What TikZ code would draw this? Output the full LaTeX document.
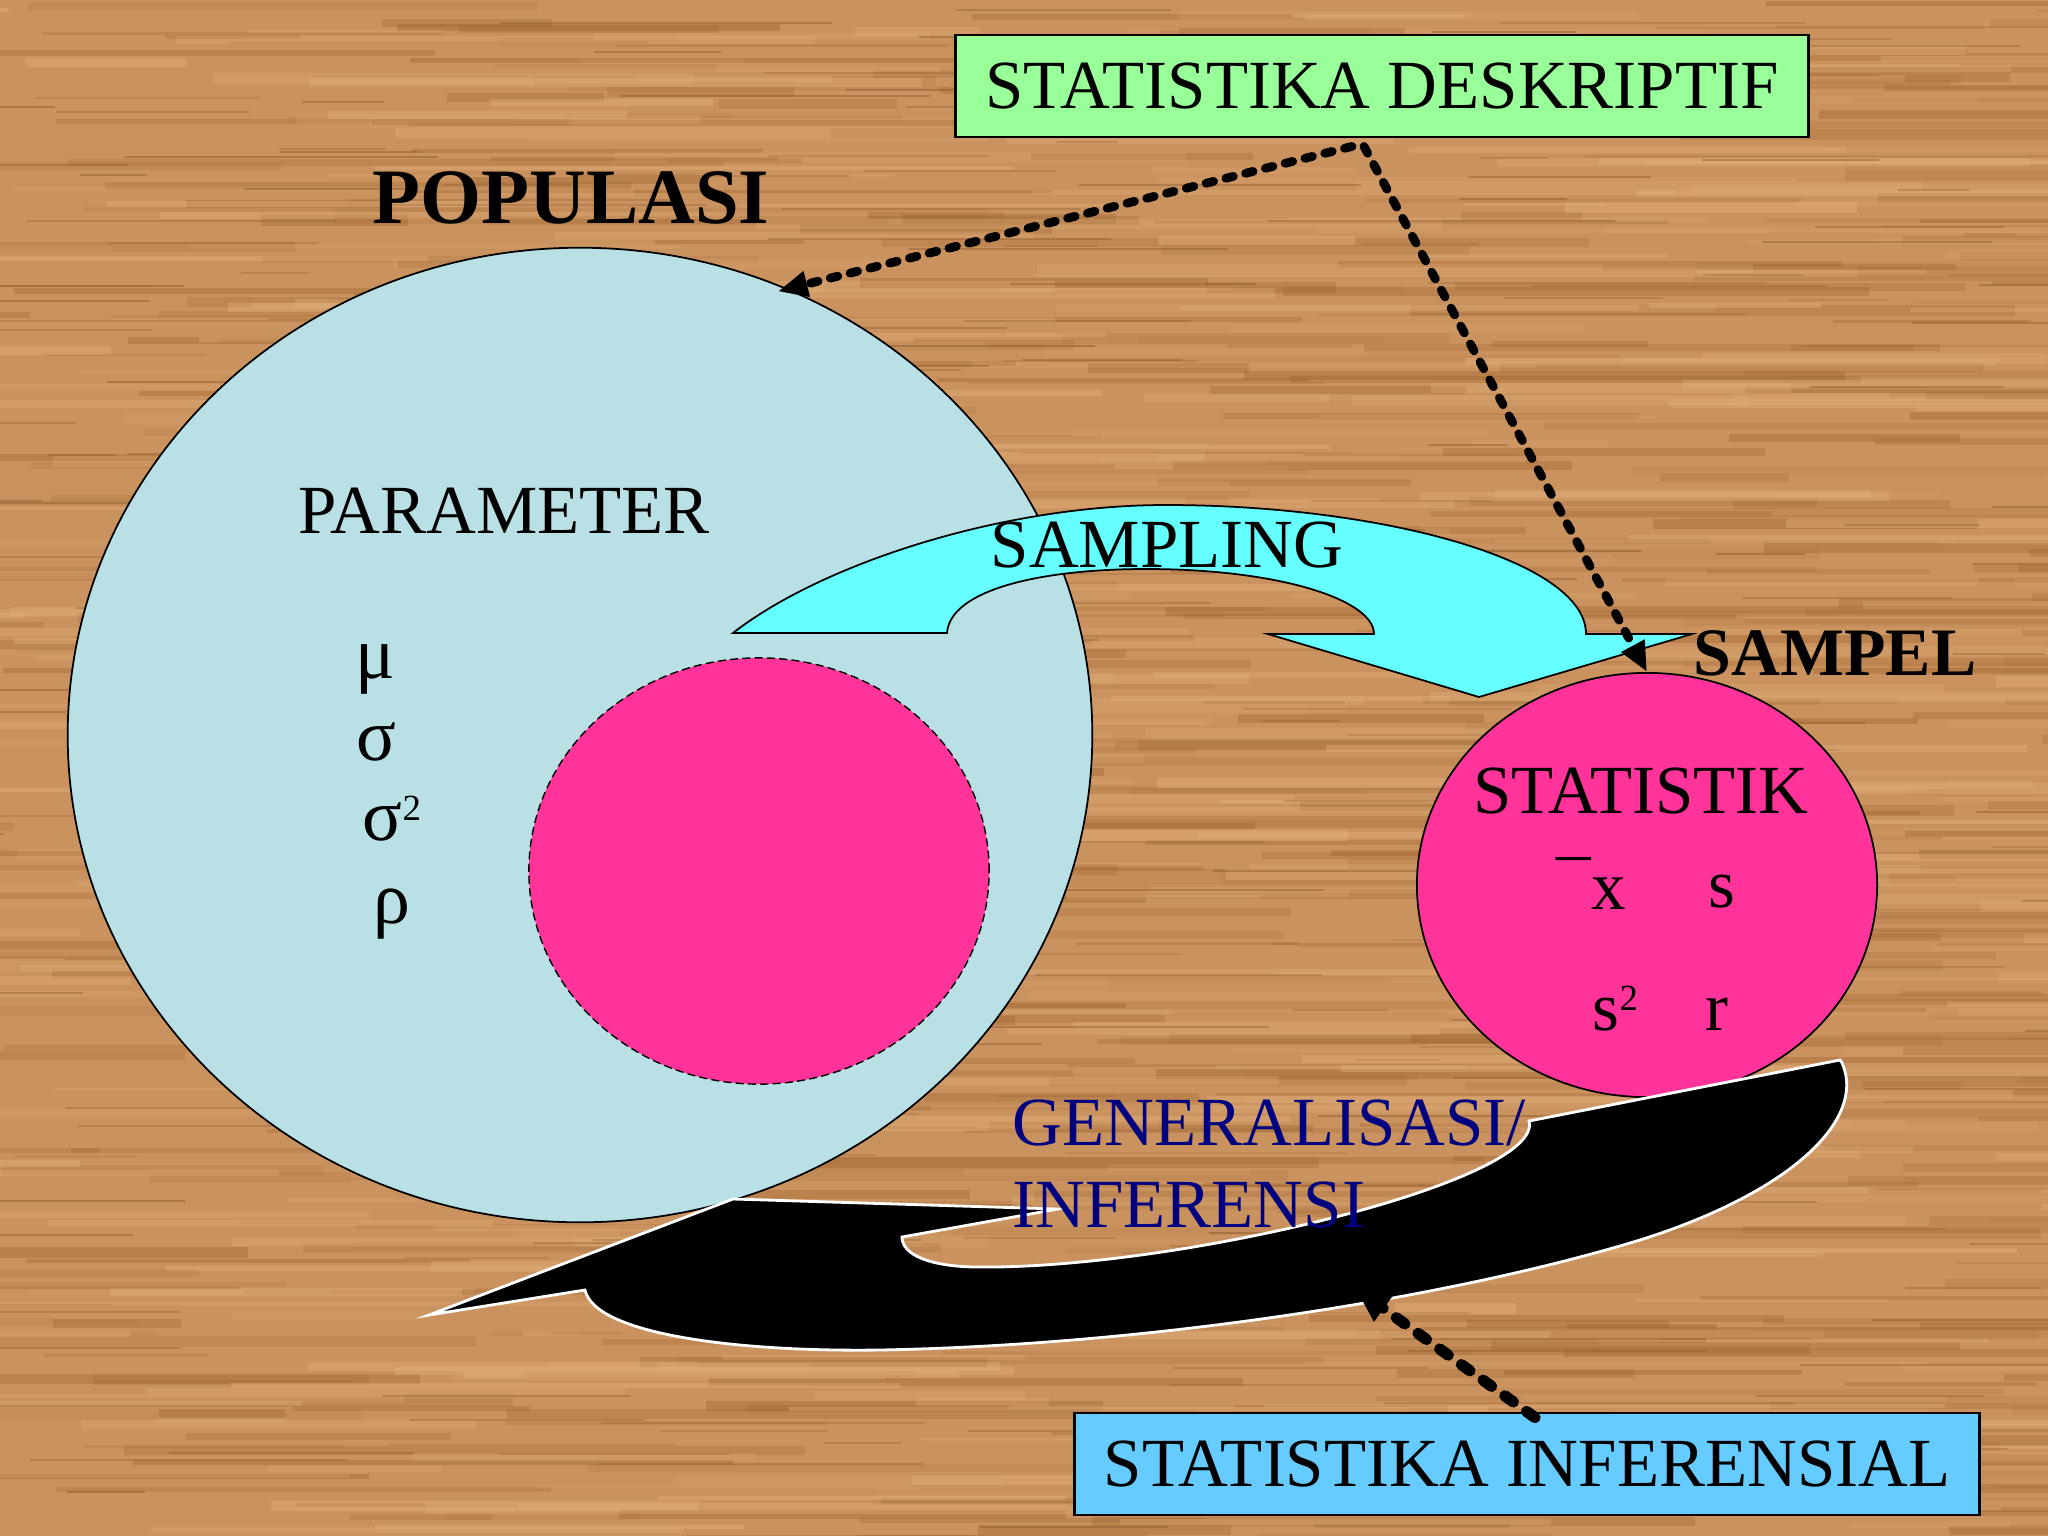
\documentclass[tikz,border=0pt]{standalone}
\usepackage{fontspec}
\setmainfont{Liberation Serif}
\usetikzlibrary{arrows.meta,calc,shapes.geometric}
\newcommand\mysup[1]{\raisebox{5.6pt}{\fontsize{10.5pt}{12pt}\selectfont #1}}
\definecolor{woodbase}{RGB}{202,146,94}
\definecolor{wooddark}{RGB}{158,100,48}
\definecolor{woodlight}{RGB}{228,180,128}
\definecolor{popblue}{RGB}{185,224,228}
\definecolor{pinkfill}{RGB}{255,51,153}
\definecolor{cyanfill}{RGB}{102,255,255}
\definecolor{greenbox}{RGB}{153,255,153}
\definecolor{bluebox}{RGB}{102,204,255}
\definecolor{navytext}{RGB}{0,0,128}
\tikzset{
  txt/.style={font=\fontsize{19.6pt}{23pt}\selectfont, inner sep=0pt, anchor=base},
  boldtxt/.style={font=\fontsize{19.3pt}{23pt}\selectfont\bfseries, inner sep=0pt, anchor=base},
  labelbox/.style={draw=black, line width=0.8pt, inner sep=0pt, font=\fontsize{19.6pt}{23pt}\selectfont},
  bigoval/.style={ellipse, draw=black, line width=0.5pt, inner sep=0pt},
  dasharrow/.style={line width=2.5pt, line cap=round, dash pattern=on 2.2pt off 3.6pt, -{Triangle[length=8.5pt,width=7pt]}},
  dasharrowthick/.style={line width=3.2pt, line cap=round, dash pattern=on 3pt off 4.6pt, -{Triangle[length=10pt,width=8.5pt]}},
}
\begin{document}
\begin{tikzpicture}[x={(0.01cm,0)}, y={(0,-0.01cm)}]
\useasboundingbox (0,0) rectangle (2048,1536);
% ---------- wood background ----------
\begin{scope}
\clip (0,0) rectangle (2048,1536);
\fill[woodbase] (0,0) rectangle (2048,1536);
\pgfmathsetseed{11}
\foreach \i in {1,...,520}{
  \pgfmathsetmacro{\yy}{rnd*1536}
  \pgfmathsetmacro{\xx}{rnd*2248-200}
  \pgfmathsetmacro{\ll}{120+rnd*600}
  \pgfmathsetmacro{\hh}{3+rnd*8}
  \pgfmathsetmacro{\op}{0.12+rnd*0.28}
  \fill[wooddark, opacity=\op] (\xx,\yy) rectangle ++(\ll,\hh);
}
\foreach \i in {1,...,380}{
  \pgfmathsetmacro{\yy}{rnd*1536}
  \pgfmathsetmacro{\xx}{rnd*2248-200}
  \pgfmathsetmacro{\ll}{120+rnd*600}
  \pgfmathsetmacro{\hh}{3+rnd*8}
  \pgfmathsetmacro{\op}{0.12+rnd*0.28}
  \fill[woodlight, opacity=\op] (\xx,\yy) rectangle ++(\ll,\hh);
}
\foreach \i in {1,...,260}{
  \pgfmathsetmacro{\yy}{rnd*1536}
  \pgfmathsetmacro{\xx}{rnd*2248-200}
  \pgfmathsetmacro{\ll}{60+rnd*300}
  \pgfmathsetmacro{\op}{0.15+rnd*0.3}
  \fill[wooddark!85!black, opacity=\op] (\xx,\yy) rectangle ++(\ll,2);
}
\end{scope}
% ---------- population and samples ----------
\node[bigoval, fill=popblue, minimum width=10.24cm, minimum height=9.74cm] (pop) at (580,735) {};
\node[bigoval, fill=pinkfill, line width=0.4pt, dash pattern=on 2.3pt off 1.2pt, minimum width=4.6cm, minimum height=4.26cm] (sub) at (759,871) {};
\node[bigoval, fill=pinkfill, minimum width=4.6cm, minimum height=4.24cm] (samp) at (1647,885) {};
% ---------- sampling arrow ----------
\draw[fill=cyanfill, line width=0.5pt, line join=miter]
 (733,633) .. controls (820,565) and (1000,505) .. (1166,505)
 .. controls (1380,505) and (1586,560) .. (1586,634)
 -- (1692,634) -- (1479,697) -- (1268,634) -- (1374,634)
 .. controls (1374,600) and (1280,569) .. (1146,569)
 .. controls (1040,569) and (950,590) .. (947,633)
 -- cycle;
% ---------- generalisation arrow ----------
\draw[draw=white, line width=0.8pt, fill=black]
 (1840,1060) -- (1529,1121)
 .. controls (1545,1180) and (1180,1270) .. (974,1267)
 .. controls (930,1266) and (902,1255) .. (902,1237)
 -- (1058,1209) -- (733,1199) -- (429,1315) -- (585,1290)
 .. controls (595,1335) and (740,1352) .. (880,1350)
 .. controls (1150,1345) and (1450,1298) .. (1640,1240)
 .. controls (1780,1196) and (1855,1130) .. (1846,1076)
 .. controls (1844,1068) and (1843,1063) .. (1840,1060) -- cycle;
\coordinate (infTip) at (1355,1288);
% ---------- boxes ----------
\node[labelbox, fill=greenbox, minimum width=8.53cm, minimum height=1.02cm] (desk) at (1382,86) {STATISTIKA DESKRIPTIF};
\node[labelbox, fill=bluebox, minimum width=9.04cm, minimum height=1.02cm] (inf) at (1527,1464) {STATISTIKA INFERENSIAL};
% ---------- labels ----------
\node[boldtxt, font=\fontsize{22.3pt}{26pt}\selectfont\bfseries] (poplbl) at (571,223) {POPULASI};
\node[txt] (param) at (504,533) {PARAMETER};
\node[txt, font=\fontsize{21pt}{24pt}\selectfont] (mu) at (375,678) {μ};
\node[txt, font=\fontsize{21pt}{24pt}\selectfont] (sig) at (376,760) {σ};
\node[txt, anchor=base west, font=\fontsize{21pt}{24pt}\selectfont] (sig2) at (362,840) {σ\mysup{2}};
\node[txt, font=\fontsize{21pt}{24pt}\selectfont] (rho) at (392,923) {ρ};
\node[txt] (samplbl) at (1167,567) {SAMPLING};
\node[boldtxt] (sampel) at (1835,675) {SAMPEL};
\node[txt] (stat) at (1641,813) {STATISTIK};
\node[txt, anchor=base west] (xbar) at (1556,909) {\char"00AF x};
\node[txt] (sdev) at (1722,907) {s};
\node[txt, anchor=base west] (svar) at (1592,1030) {s\mysup{2}};
\node[txt] (corr) at (1717,1030) {r};
\node[txt, anchor=base west, text=navytext] (gen1) at (1012,1145) {GENERALISASI/};
\node[txt, anchor=base west, text=navytext] (gen2) at (1012,1227) {INFERENSI};
% ---------- dashed connectors ----------
\draw[dasharrow, shorten >=-3pt] ([xshift=-0.3cm,yshift=-0.08cm]desk.south) -- (pop.65);
\draw[dasharrow] ([xshift=-0.18cm,yshift=-0.08cm]desk.south) -- (samp.north);
\draw[dasharrowthick] ([xshift=0.08cm,yshift=-0.06cm]inf.north) -- (infTip);
\end{tikzpicture}
\end{document}
